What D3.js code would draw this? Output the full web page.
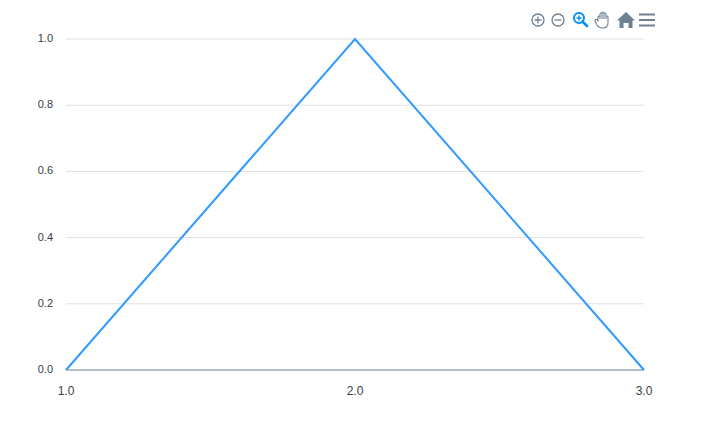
<!DOCTYPE html>
<html>
<head>
<meta charset="utf-8">
<script src="https://cdn.jsdelivr.net/npm/d3@7"></script>
<style>
  body { margin: 0; background: #fff; }
  svg { font-family: Arial, "Liberation Sans", sans-serif; }
</style>
</head>
<body>
<svg id="chart" width="701" height="423"></svg>
<script>
const xValues = [1, 2, 3];
const yValues = [0, 1, 0];
const xTicks = [1, 2, 3];
const yTicks = [0, 0.2, 0.4, 0.6, 0.8, 1.0];

const svg = d3.select('#chart');
const margin = { top: 39, right: 57, bottom: 53, left: 66 };
const width = 701 - margin.left - margin.right;
const height = 423 - margin.top - margin.bottom;

const x = d3.scaleLinear().domain([1, 3]).range([0, width]);
const y = d3.scaleLinear().domain([0, 1]).range([height, 0]);

const g = svg.append('g').attr('transform', `translate(${margin.left},${margin.top})`);

// grid lines
g.selectAll('.grid')
    .data(yTicks)
    .enter().append('line')
    .attr('class', 'grid')
    .attr('x1', 0)
    .attr('x2', width)
    .attr('y1', d => y(d))
    .attr('y2', d => y(d))
    .attr('stroke', '#e0e0e0')
    .attr('stroke-width', 1);

// y labels
g.selectAll('.ylab')
    .data(yTicks)
    .enter().append('text')
    .attr('class', 'ylab')
    .attr('x', -13)
    .attr('y', d => y(d) + 3)
    .attr('text-anchor', 'end')
    .attr('font-size', 11)
    .attr('fill', '#373d3f')
    .text(d => d.toFixed(1));

// x axis line
g.append('line')
    .attr('x1', 0).attr('x2', width)
    .attr('y1', height).attr('y2', height)
    .attr('stroke', '#78909c')
    .attr('stroke-width', 1);

g.selectAll('.xlab')
    .data(xTicks)
    .enter().append('text')
    .attr('class', 'xlab')
    .attr('x', d => x(d))
    .attr('y', height + 25)
    .attr('text-anchor', 'middle')
    .attr('font-size', 12)
    .attr('fill', '#373d3f')
    .text(d => d.toFixed(1));

// series line
const line = d3.line().x((d, i) => x(xValues[i])).y(d => y(d));
g.append('path')
    .datum(yValues)
    .attr('d', line)
    .attr('fill', 'none')
    .attr('stroke', '#2E9BFF')
    .attr('stroke-width', 2)
    .attr('stroke-linejoin', 'miter');

// toolbar
const tb = svg.append('g');
const grey = '#6E8192';
// zoom in
const zi = tb.append('g').attr('transform', 'translate(538,20)');
zi.append('circle').attr('r', 6).attr('fill', 'none').attr('stroke', grey).attr('stroke-width', 1.3);
zi.append('path').attr('d', 'M-3.5,0H3.5M0,-3.5V3.5').attr('stroke', grey).attr('stroke-width', 1.3);
// zoom out
const zo = tb.append('g').attr('transform', 'translate(558,20)');
zo.append('circle').attr('r', 6).attr('fill', 'none').attr('stroke', grey).attr('stroke-width', 1.3);
zo.append('path').attr('d', 'M-3.5,0H3.5').attr('stroke', grey).attr('stroke-width', 1.3);
// zoom selection (active)
const zs = tb.append('g').attr('transform', 'translate(579,18)');
zs.append('circle').attr('r', 5).attr('fill', 'none').attr('stroke', '#008FFB').attr('stroke-width', 2);
zs.append('path').attr('d', 'M3.5,3.5L8,8').attr('stroke', '#008FFB').attr('stroke-width', 2.6).attr('stroke-linecap', 'round');
zs.append('path').attr('d', 'M-2.5,0H2.5M0,-2.5V2.5').attr('stroke', '#008FFB').attr('stroke-width', 1.4);
// pan hand
const pan = tb.append('g').attr('transform', 'translate(603,20)');
pan.append('path')
    .attr('d', 'M-5,1V-3a1,1 0 0 1 2,0V-1V-6a1,1 0 0 1 2,0V-1V-7a1,1 0 0 1 2,0V-1V-6a1,1 0 0 1 2,0V-1V-3a1,1 0 0 1 2,0V3q0,5 -5,5H-1q-3,0 -5,-3L-8,1a1,1 0 0 1 2,-1Z')
    .attr('fill', 'none').attr('stroke', grey).attr('stroke-width', 1.1);
// home
tb.append('path')
    .attr('d', 'M617,20.5L626,12L635,20.5H632.5V28H628.5V23H623.5V28H619.5V20.5Z')
    .attr('fill', grey);
// menu
tb.append('path')
    .attr('d', 'M639,14.5H655M639,20H655M639,25.5H655')
    .attr('stroke', grey).attr('stroke-width', 2);
</script>
</body>
</html>
